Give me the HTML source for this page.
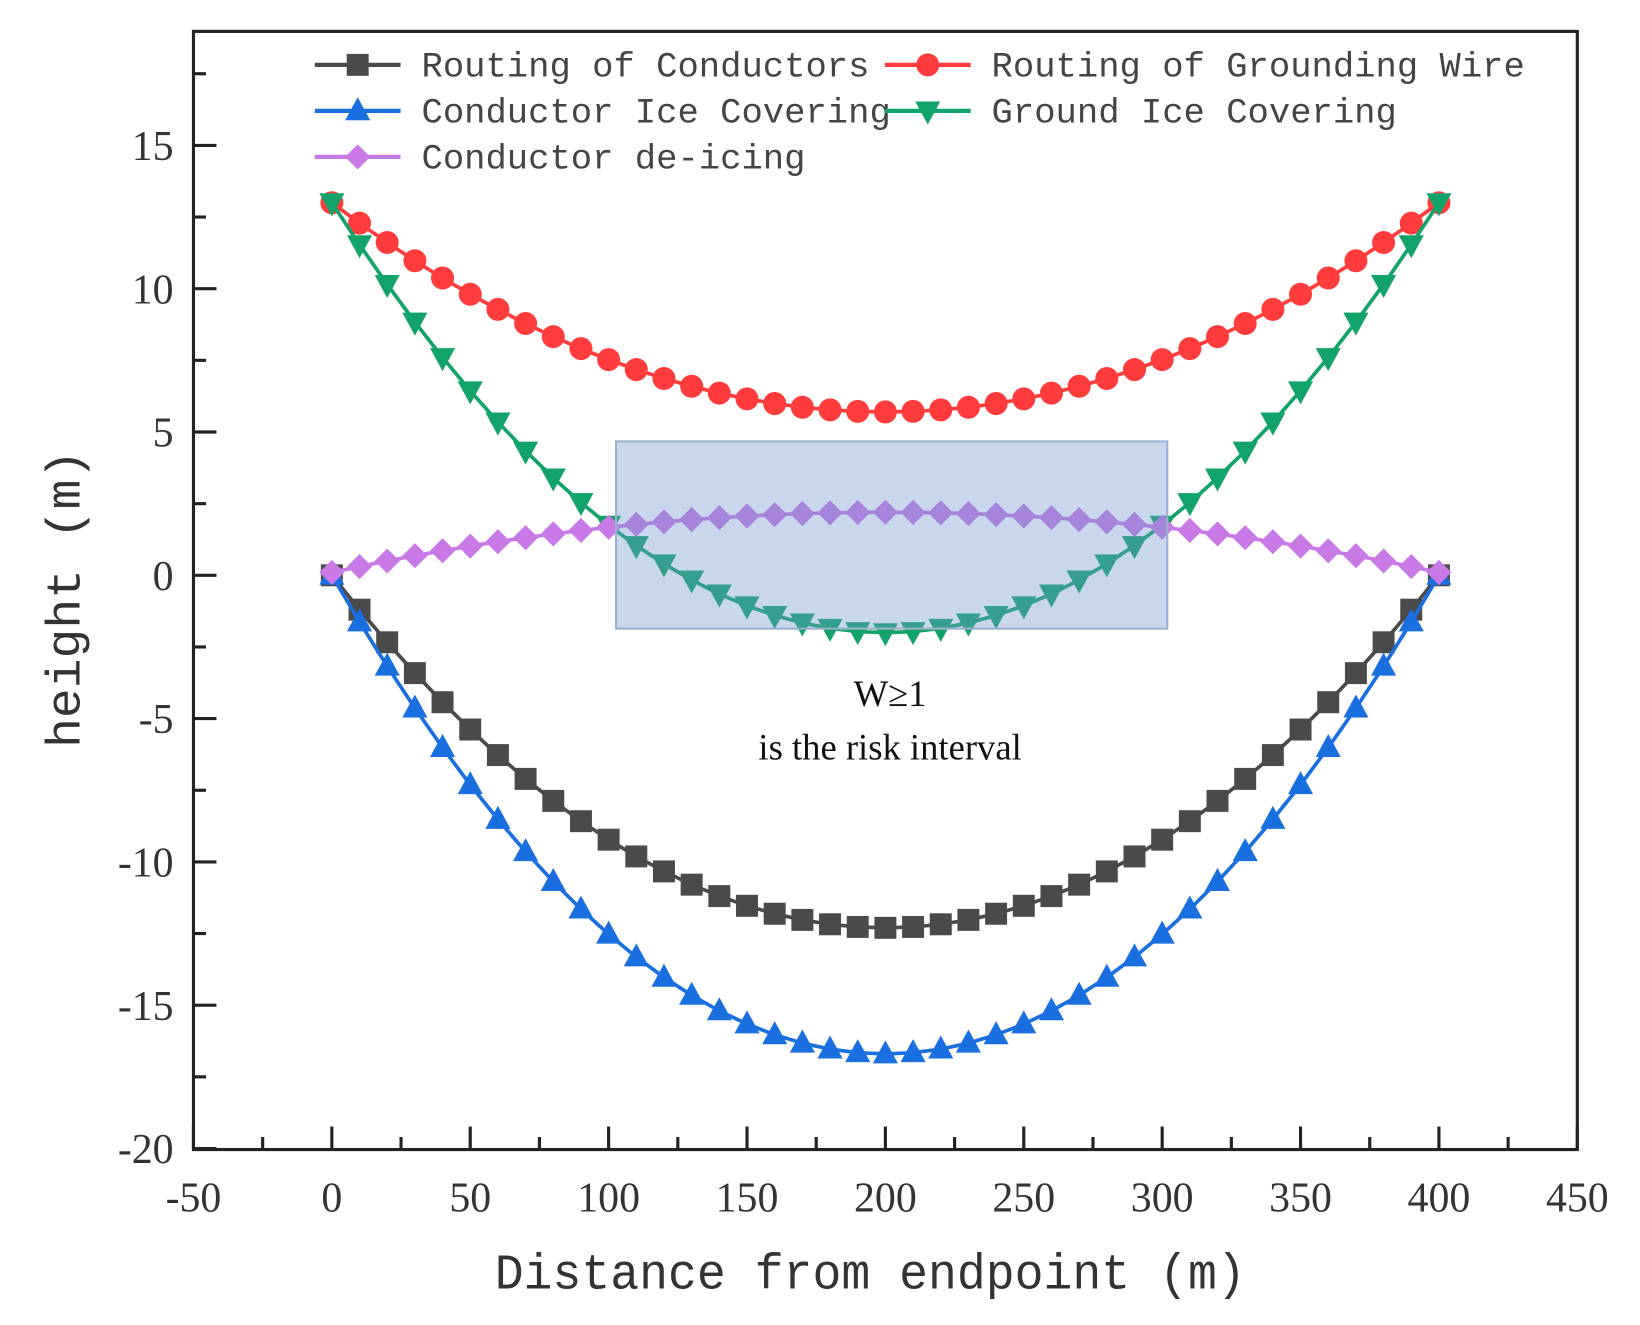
<!DOCTYPE html>
<html><head><meta charset="utf-8"><style>body{margin:0;background:#fff}svg{display:block}</style></head>
<body>
<svg id="s" width="1640" height="1325" xmlns="http://www.w3.org/2000/svg">
<rect width="1640" height="1325" fill="#fff"/>
<g transform="translate(1,0) scale(1.046)">
<g id="plot"></g>
<rect x="588" y="422" width="527" height="179" fill="rgba(110,150,205,0.38)" stroke="#9ab0d0" stroke-width="2"/>
<rect x="184" y="30" width="1323" height="1069" fill="none" stroke="#222" stroke-width="3"/>
<g id="ticks" stroke="#222" stroke-width="3"></g>
<g id="labels" font-family="Liberation Serif, serif" font-size="40" fill="#333"></g>
<text x="850" y="675" font-family="Liberation Serif, serif" font-size="35" text-anchor="middle" fill="#111">W≥1</text>
<text x="850" y="726" font-family="Liberation Serif, serif" font-size="35" text-anchor="middle" fill="#111">is the risk interval</text>
<text x="472" y="1232" font-family="Liberation Mono, monospace" font-size="48" fill="#333" textLength="718" lengthAdjust="spacingAndGlyphs">Distance from endpoint (m)</text>
<text transform="translate(75,715) rotate(-90)" font-family="Liberation Mono, monospace" font-size="46" fill="#333" textLength="285" lengthAdjust="spacingAndGlyphs">height (m)</text>
<g id="legend" font-family="Liberation Mono, monospace" font-size="34" fill="#444"></g>
</g>
</svg>
<script>
const NS="http://www.w3.org/2000/svg";
function el(p,t,a){const e=document.createElementNS(NS,t);for(const k in a)e.setAttribute(k,a[k]);p.appendChild(e);return e;}
const X=v=>316.3+v*2.646, Y=v=>550-v*27.4;
const plot=document.getElementById('plot'),ticks=document.getElementById('ticks'),lab=document.getElementById('labels'),leg=document.getElementById('legend');
for(let v=-50;v<=450;v+=25){const x=X(v),maj=v%50==0;el(ticks,'line',{x1:x,y1:1099,x2:x,y2:1099-(maj?22:12)});
 if(maj){const t=el(lab,'text',{x:x,y:1158,'text-anchor':'middle'});t.textContent=v;}}
for(let v=-20;v<=17.5;v+=2.5){const y=Y(v),maj=v%5==0;el(ticks,'line',{x1:184,y1:y,x2:184+(maj?22:12),y2:y});
 if(maj){const t=el(lab,'text',{x:165,y:y+14,'text-anchor':'end'});t.textContent=v;}}
function marker(g,type,x,y,c){
 if(type=='sq')el(g,'rect',{x:x-10.5,y:y-10.5,width:21,height:21,fill:c});
 else if(type=='ci')el(g,'circle',{cx:x,cy:y,r:11,fill:c});
 else if(type=='up')el(g,'polygon',{points:`${x},${y-13} ${x-12},${y+9} ${x+12},${y+9}`,fill:c});
 else if(type=='dn')el(g,'polygon',{points:`${x},${y+13} ${x-12},${y-9} ${x+12},${y-9}`,fill:c});
 else if(type=='di')el(g,'polygon',{points:`${x},${y-12} ${x+12},${y} ${x},${y+12} ${x-12},${y}`,fill:c});
}
const series=[
 {c:'#4a4a4a',m:'sq',f:t=>-12.3+12.3*t*t},
 {c:'#1a6fe0',m:'up',f:t=>-16.7+16.7*t*t},
 {c:'#ff3b3b',m:'ci',f:t=>5.7+7.3*t*t},
 {c:'#12a36a',m:'dn',f:t=>-2+15*t*t},
 {c:'#c879e6',m:'di',f:t=>2.2-2.1*t*t},
];
for(const s of series){const g=el(plot,'g',{});let pts=[];
 for(let d=0;d<=400;d+=10){const t=(d-200)/200;pts.push([X(d),Y(s.f(t))]);}
 el(g,'polyline',{points:pts.map(p=>p.join(',')).join(' '),fill:'none',stroke:s.c,'stroke-width':3.5});
 for(const p of pts)marker(g,s.m,p[0],p[1],s.c);}
const L=[[300,62,0,'Routing of Conductors'],[845,62,2,'Routing of Grounding Wire'],[300,106,1,'Conductor Ice Covering'],[845,106,3,'Ground Ice Covering'],[300,150,4,'Conductor de-icing']];
for(const [x,y,i,txt] of L){const s=series[i];el(leg,'line',{x1:x,y1:y,x2:x+82,y2:y,stroke:s.c,'stroke-width':4});marker(leg,s.m,x+41,y,s.c);
 const t=el(leg,'text',{x:x+102,y:y+11});t.textContent=txt;}
</script>
</body></html>
